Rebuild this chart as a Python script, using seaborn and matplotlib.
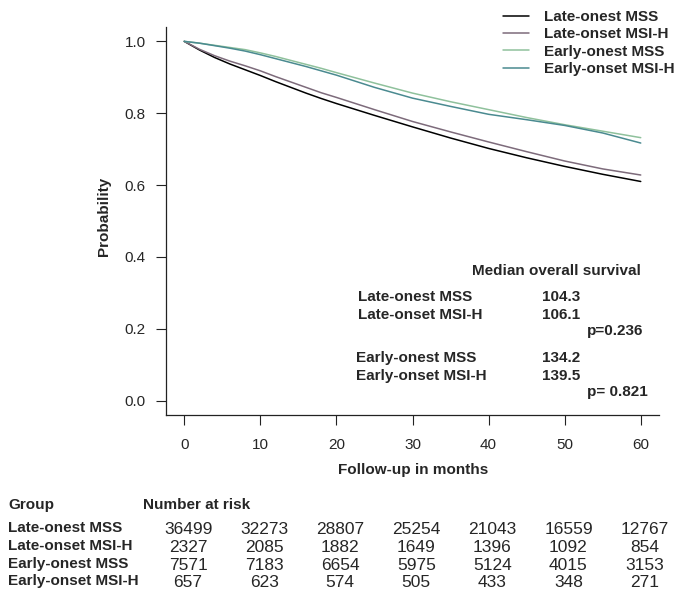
import matplotlib
matplotlib.use("Agg")
import matplotlib.pyplot as plt
import matplotlib.transforms as mtransforms
import seaborn as sns
import pandas as pd

# ---------------- data ----------------
months = [0, 2, 4, 6, 8, 10, 12, 14, 16, 18, 20, 25, 30, 35, 40, 45, 50, 55, 60]
late_mss = [1.0, 0.976, 0.955, 0.937, 0.921, 0.905, 0.888, 0.872, 0.856, 0.841, 0.827,
            0.794, 0.762, 0.731, 0.702, 0.676, 0.652, 0.630, 0.610]
late_msih = [1.0, 0.978, 0.960, 0.945, 0.932, 0.918, 0.902, 0.887, 0.872, 0.857, 0.844,
             0.810, 0.777, 0.748, 0.720, 0.693, 0.667, 0.645, 0.628]
early_mss = [1.0, 0.995, 0.989, 0.983, 0.977, 0.968, 0.958, 0.947, 0.936, 0.925, 0.913,
             0.884, 0.856, 0.832, 0.810, 0.788, 0.768, 0.750, 0.732]
early_msih = [1.0, 0.995, 0.988, 0.981, 0.973, 0.963, 0.952, 0.941, 0.930, 0.918, 0.906,
              0.872, 0.842, 0.819, 0.797, 0.782, 0.766, 0.745, 0.717]

groups = ["Late-onest MSS", "Late-onset MSI-H", "Early-onest MSS", "Early-onset MSI-H"]
colors = ["#000000", "#7d6b7b", "#8fc19c", "#4a8a90"]

x_ticks = [0, 10, 20, 30, 40, 50, 60]
y_ticks = [0.0, 0.2, 0.4, 0.6, 0.8, 1.0]

risk_late_mss = [36499, 32273, 28807, 25254, 21043, 16559, 12767]
risk_late_msih = [2327, 2085, 1882, 1649, 1396, 1092, 854]
risk_early_mss = [7571, 7183, 6654, 5975, 5124, 4015, 3153]
risk_early_msih = [657, 623, 574, 505, 433, 348, 271]

median_labels = ["Late-onest MSS", "Late-onset MSI-H", "Early-onest MSS", "Early-onset MSI-H"]
median_values = ["104.3", "106.1", "134.2", "139.5"]
p_values = ["p=0.236", "p= 0.821"]

# ---------------- style ----------------
sns.set_style("ticks")
plt.rcParams["font.family"] = ["Liberation Sans", "DejaVu Sans"]

W, H = 685, 589
fig = plt.figure(figsize=(W / 100, H / 100), dpi=100)
ax = fig.add_axes([166 / W, 1 - 415 / H, (659 - 166) / W, (415 - 27) / H])

frames = []
for g, vals in zip(groups, [late_mss, late_msih, early_mss, early_msih]):
    frames.append(pd.DataFrame({"month": months, "surv": vals, "group": g}))
df = pd.concat(frames, ignore_index=True)

sns.lineplot(data=df, x="month", y="surv", hue="group", hue_order=groups,
             palette=colors, linewidth=1.1, ax=ax, legend=False, errorbar=None)

ax.set_xlim(-2.4, 62.4)
ax.set_ylim(-0.04, 1.04)
ax.set_xticks(x_ticks)
ax.set_yticks(y_ticks)
ax.set_yticklabels([f"{v:.1f}" for v in y_ticks])
ax.tick_params(axis="x", length=7.5, width=0.8, pad=9, labelsize=11, color="#222222")
ax.tick_params(axis="y", length=7.5, width=0.8, pad=7, labelsize=11, color="#222222")
for s in ["top", "right"]:
    ax.spines[s].set_visible(False)
for s in ["left", "bottom"]:
    ax.spines[s].set_linewidth(0.9)
    ax.spines[s].set_color("#222222")
ax.set_xlabel("")
ax.set_ylabel("")

# axis labels
fig.text(104 / W, 1 - 216 / H, "Probability", rotation=90, ha="center", va="center",
         fontsize=11, fontweight="bold")
fig.text(413 / W, 1 - 470 / H, "Follow-up in months", ha="center", va="center",
         fontsize=11, fontweight="bold")

# legend
handles = ax.get_lines()[:4]
fig.legend(handles, groups, loc="upper left", bbox_to_anchor=(503 / W, 1 - 10 / H),
           frameon=False, prop={"weight": "bold", "size": 11},
           handlelength=1.7, handletextpad=1.0, labelspacing=0.22,
           borderpad=0, borderaxespad=0)

# median survival annotation
fig.text(641 / W, 1 - 271 / H, "Median overall survival", ha="right", va="center",
         fontsize=11, fontweight="bold")
ann_y = [297, 315, 358, 376]
ann_x = [358, 358, 356, 356]
for lab, val, yy, xx in zip(median_labels, median_values, ann_y, ann_x):
    fig.text(xx / W, 1 - yy / H, lab, ha="left", va="center", fontsize=11, fontweight="bold")
    fig.text(542 / W, 1 - yy / H, val, ha="left", va="center", fontsize=11, fontweight="bold")
for p, yy in zip(p_values, [331, 392]):
    fig.text(587 / W, 1 - yy / H, p, ha="left", va="center", fontsize=11, fontweight="bold")

# risk table
fig.text(8 / W, 1 - 505 / H, "Group", ha="left", va="center", fontsize=11, fontweight="bold")
fig.text(143 / W, 1 - 505 / H, "Number at risk", ha="left", va="center", fontsize=11,
         fontweight="bold")
trans = mtransforms.blended_transform_factory(ax.transData, fig.transFigure)
row_y = [528, 546, 564, 581]
for lab, counts, yy in zip(groups, [risk_late_mss, risk_late_msih, risk_early_mss, risk_early_msih], row_y):
    fig.text(8 / W, 1 - yy / H, lab, ha="left", va="center", fontsize=11, fontweight="bold")
    for m, c in zip(x_ticks, counts):
        ax.text(m + 0.5, 1 - (yy + 1.5) / H, str(c), transform=trans, ha="center", va="center",
                fontsize=12.5, family=["Liberation Sans Narrow", "Liberation Sans"],
                clip_on=False)

fig.savefig("out.png", dpi=100)
